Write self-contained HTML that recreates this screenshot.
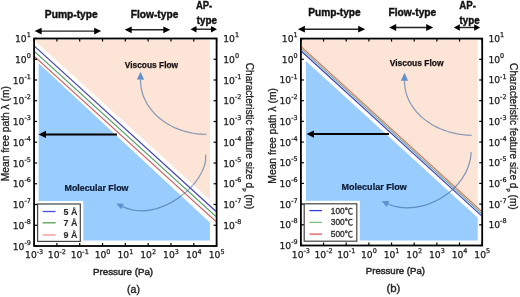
<!DOCTYPE html>
<html><head><meta charset="utf-8"><title>Mean free path vs pressure</title>
<style>html,body{margin:0;padding:0;background:#fff;}body{width:520px;height:297px;overflow:hidden;}svg{display:block;}</style>
</head><body>
<svg width="520" height="297" viewBox="0 0 520 297">
<polygon points="35.00,39.60 209.90,39.60 209.90,199.75 35.00,40.64" fill="#fce4d6"/>
<polygon points="38.60,63.21 209.90,222.52 209.90,240.60 38.60,240.60" fill="#99ccff"/>
<line x1="34.90" y1="46.65" x2="215.80" y2="211.21" stroke="#4040b0" stroke-width="1.15"/>
<line x1="34.90" y1="51.85" x2="215.80" y2="216.41" stroke="#489858" stroke-width="1.15"/>
<line x1="34.90" y1="56.85" x2="215.80" y2="221.41" stroke="#d05454" stroke-width="1.15"/>
<line x1="43.50" y1="134.40" x2="117.00" y2="134.40" stroke="#000" stroke-width="2"/>
<polygon points="38.50,134.40 46.00,130.80 46.00,138.00" fill="#000"/>
<path d="M206.40,134.30 L204.23,134.27 L202.07,134.18 L199.90,134.04 L197.75,133.83 L195.61,133.57 L193.47,133.25 L191.35,132.87 L189.25,132.43 L187.17,131.94 L185.10,131.39 L183.06,130.79 L181.05,130.13 L179.06,129.42 L177.10,128.65 L175.18,127.83 L173.28,126.96 L171.43,126.04 L169.61,125.07 L167.83,124.05 L166.09,122.98 L164.40,121.87 L162.75,120.71 L161.15,119.50 L159.60,118.26 L158.10,116.97 L156.65,115.64 L155.25,114.28 L153.91,112.88 L152.63,111.44 L151.41,109.97 L150.24,108.46 L149.14,106.93 L148.10,105.36 L147.12,103.77 L146.20,102.15 L145.35,100.51 L144.57,98.85 L143.85,97.17 L143.20,95.47 L142.62,93.75 L142.11,92.01 L141.67,90.27 L141.30,88.51 L141.00,86.74 L140.77,84.97 L140.61,83.19 L140.52,81.41 L140.50,79.63" fill="none" stroke="rgba(60,100,160,0.62)" stroke-width="1.2"/><polygon points="140.59,71.63 144.10,79.67 136.90,79.59" fill="#5f8fcc"/>
<path d="M205.60,154.60 C208.85,182.48 158.65,224.30 122.50,206.50" fill="none" stroke="rgba(60,100,160,0.62)" stroke-width="1.2"/><polygon points="116.40,203.50 123.91,203.63 121.09,209.37" fill="#5f8fcc"/>
<rect x="34.60" y="201.00" width="48.70" height="40.40" fill="#fff"/>
<rect x="37.60" y="204.00" width="42.70" height="37.40" fill="#fff" stroke="#444" stroke-width="1.2"/>
<line x1="42.60" y1="211.50" x2="55.60" y2="211.50" stroke="#4a4ae6" stroke-width="1.3"/>
<text x="77.40" y="214.50" font-family="'Liberation Sans', sans-serif" font-size="8.90" font-weight="bold" fill="#2a2a2a" stroke="#2a2a2a" stroke-width="0.10" text-anchor="end">5 Å</text>
<line x1="42.60" y1="222.80" x2="55.60" y2="222.80" stroke="#4fa04f" stroke-width="1.3"/>
<text x="77.40" y="225.80" font-family="'Liberation Sans', sans-serif" font-size="8.90" font-weight="bold" fill="#2a2a2a" stroke="#2a2a2a" stroke-width="0.10" text-anchor="end">7 Å</text>
<line x1="42.60" y1="235.00" x2="55.60" y2="235.00" stroke="#f09090" stroke-width="1.3"/>
<text x="77.40" y="238.00" font-family="'Liberation Sans', sans-serif" font-size="8.90" font-weight="bold" fill="#2a2a2a" stroke="#2a2a2a" stroke-width="0.10" text-anchor="end">9 Å</text>
<rect x="34.10" y="38.50" width="182.50" height="207.50" fill="none" stroke="#000" stroke-width="1.8"/>
<line x1="34.10" y1="38.50" x2="34.10" y2="41.50" stroke="#000" stroke-width="1.2"/>
<line x1="34.10" y1="246.00" x2="34.10" y2="243.00" stroke="#000" stroke-width="1.2"/>
<line x1="56.91" y1="38.50" x2="56.91" y2="41.50" stroke="#000" stroke-width="1.2"/>
<line x1="56.91" y1="246.00" x2="56.91" y2="243.00" stroke="#000" stroke-width="1.2"/>
<line x1="79.72" y1="38.50" x2="79.72" y2="41.50" stroke="#000" stroke-width="1.2"/>
<line x1="79.72" y1="246.00" x2="79.72" y2="243.00" stroke="#000" stroke-width="1.2"/>
<line x1="102.54" y1="38.50" x2="102.54" y2="41.50" stroke="#000" stroke-width="1.2"/>
<line x1="102.54" y1="246.00" x2="102.54" y2="243.00" stroke="#000" stroke-width="1.2"/>
<line x1="125.35" y1="38.50" x2="125.35" y2="41.50" stroke="#000" stroke-width="1.2"/>
<line x1="125.35" y1="246.00" x2="125.35" y2="243.00" stroke="#000" stroke-width="1.2"/>
<line x1="148.16" y1="38.50" x2="148.16" y2="41.50" stroke="#000" stroke-width="1.2"/>
<line x1="148.16" y1="246.00" x2="148.16" y2="243.00" stroke="#000" stroke-width="1.2"/>
<line x1="170.97" y1="38.50" x2="170.97" y2="41.50" stroke="#000" stroke-width="1.2"/>
<line x1="170.97" y1="246.00" x2="170.97" y2="243.00" stroke="#000" stroke-width="1.2"/>
<line x1="193.79" y1="38.50" x2="193.79" y2="41.50" stroke="#000" stroke-width="1.2"/>
<line x1="193.79" y1="246.00" x2="193.79" y2="243.00" stroke="#000" stroke-width="1.2"/>
<line x1="216.60" y1="38.50" x2="216.60" y2="41.50" stroke="#000" stroke-width="1.2"/>
<line x1="216.60" y1="246.00" x2="216.60" y2="243.00" stroke="#000" stroke-width="1.2"/>
<line x1="34.10" y1="38.50" x2="37.10" y2="38.50" stroke="#000" stroke-width="1.2"/>
<line x1="216.60" y1="38.50" x2="213.60" y2="38.50" stroke="#000" stroke-width="1.2"/>
<line x1="34.10" y1="59.25" x2="37.10" y2="59.25" stroke="#000" stroke-width="1.2"/>
<line x1="216.60" y1="59.25" x2="213.60" y2="59.25" stroke="#000" stroke-width="1.2"/>
<line x1="34.10" y1="80.00" x2="37.10" y2="80.00" stroke="#000" stroke-width="1.2"/>
<line x1="216.60" y1="80.00" x2="213.60" y2="80.00" stroke="#000" stroke-width="1.2"/>
<line x1="34.10" y1="100.75" x2="37.10" y2="100.75" stroke="#000" stroke-width="1.2"/>
<line x1="216.60" y1="100.75" x2="213.60" y2="100.75" stroke="#000" stroke-width="1.2"/>
<line x1="34.10" y1="121.50" x2="37.10" y2="121.50" stroke="#000" stroke-width="1.2"/>
<line x1="216.60" y1="121.50" x2="213.60" y2="121.50" stroke="#000" stroke-width="1.2"/>
<line x1="34.10" y1="142.25" x2="37.10" y2="142.25" stroke="#000" stroke-width="1.2"/>
<line x1="216.60" y1="142.25" x2="213.60" y2="142.25" stroke="#000" stroke-width="1.2"/>
<line x1="34.10" y1="163.00" x2="37.10" y2="163.00" stroke="#000" stroke-width="1.2"/>
<line x1="216.60" y1="163.00" x2="213.60" y2="163.00" stroke="#000" stroke-width="1.2"/>
<line x1="34.10" y1="183.75" x2="37.10" y2="183.75" stroke="#000" stroke-width="1.2"/>
<line x1="216.60" y1="183.75" x2="213.60" y2="183.75" stroke="#000" stroke-width="1.2"/>
<line x1="34.10" y1="204.50" x2="37.10" y2="204.50" stroke="#000" stroke-width="1.2"/>
<line x1="216.60" y1="204.50" x2="213.60" y2="204.50" stroke="#000" stroke-width="1.2"/>
<line x1="34.10" y1="225.25" x2="37.10" y2="225.25" stroke="#000" stroke-width="1.2"/>
<line x1="216.60" y1="225.25" x2="213.60" y2="225.25" stroke="#000" stroke-width="1.2"/>
<line x1="34.10" y1="246.00" x2="37.10" y2="246.00" stroke="#000" stroke-width="1.2"/>
<line x1="216.60" y1="246.00" x2="213.60" y2="246.00" stroke="#000" stroke-width="1.2"/>
<text x="34.10" y="258.40" font-family="'DejaVu Sans', sans-serif" font-size="9.20" fill="#1a1a1a" stroke="#1a1a1a" stroke-width="0.25" text-anchor="middle">10<tspan font-size="6.44" dy="-4.9">-3</tspan></text>
<text x="56.91" y="258.40" font-family="'DejaVu Sans', sans-serif" font-size="9.20" fill="#1a1a1a" stroke="#1a1a1a" stroke-width="0.25" text-anchor="middle">10<tspan font-size="6.44" dy="-4.9">-2</tspan></text>
<text x="79.72" y="258.40" font-family="'DejaVu Sans', sans-serif" font-size="9.20" fill="#1a1a1a" stroke="#1a1a1a" stroke-width="0.25" text-anchor="middle">10<tspan font-size="6.44" dy="-4.9">-1</tspan></text>
<text x="102.54" y="258.40" font-family="'DejaVu Sans', sans-serif" font-size="9.20" fill="#1a1a1a" stroke="#1a1a1a" stroke-width="0.25" text-anchor="middle">10<tspan font-size="6.44" dy="-4.9">0</tspan></text>
<text x="125.35" y="258.40" font-family="'DejaVu Sans', sans-serif" font-size="9.20" fill="#1a1a1a" stroke="#1a1a1a" stroke-width="0.25" text-anchor="middle">10<tspan font-size="6.44" dy="-4.9">1</tspan></text>
<text x="148.16" y="258.40" font-family="'DejaVu Sans', sans-serif" font-size="9.20" fill="#1a1a1a" stroke="#1a1a1a" stroke-width="0.25" text-anchor="middle">10<tspan font-size="6.44" dy="-4.9">2</tspan></text>
<text x="170.97" y="258.40" font-family="'DejaVu Sans', sans-serif" font-size="9.20" fill="#1a1a1a" stroke="#1a1a1a" stroke-width="0.25" text-anchor="middle">10<tspan font-size="6.44" dy="-4.9">3</tspan></text>
<text x="193.79" y="258.40" font-family="'DejaVu Sans', sans-serif" font-size="9.20" fill="#1a1a1a" stroke="#1a1a1a" stroke-width="0.25" text-anchor="middle">10<tspan font-size="6.44" dy="-4.9">4</tspan></text>
<text x="216.60" y="258.40" font-family="'DejaVu Sans', sans-serif" font-size="9.20" fill="#1a1a1a" stroke="#1a1a1a" stroke-width="0.25" text-anchor="middle">10<tspan font-size="6.44" dy="-4.9">5</tspan></text>
<text x="30.80" y="42.00" font-family="'DejaVu Sans', sans-serif" font-size="9.20" fill="#1a1a1a" stroke="#1a1a1a" stroke-width="0.25" text-anchor="end">10<tspan font-size="6.44" dy="-4.9">1</tspan></text>
<text x="223.20" y="42.00" font-family="'DejaVu Sans', sans-serif" font-size="9.20" fill="#1a1a1a" stroke="#1a1a1a" stroke-width="0.25" text-anchor="start">10<tspan font-size="6.44" dy="-4.9">1</tspan></text>
<text x="30.80" y="62.75" font-family="'DejaVu Sans', sans-serif" font-size="9.20" fill="#1a1a1a" stroke="#1a1a1a" stroke-width="0.25" text-anchor="end">10<tspan font-size="6.44" dy="-4.9">0</tspan></text>
<text x="223.20" y="62.75" font-family="'DejaVu Sans', sans-serif" font-size="9.20" fill="#1a1a1a" stroke="#1a1a1a" stroke-width="0.25" text-anchor="start">10<tspan font-size="6.44" dy="-4.9">0</tspan></text>
<text x="30.80" y="83.50" font-family="'DejaVu Sans', sans-serif" font-size="9.20" fill="#1a1a1a" stroke="#1a1a1a" stroke-width="0.25" text-anchor="end">10<tspan font-size="6.44" dy="-4.9">-1</tspan></text>
<text x="223.20" y="83.50" font-family="'DejaVu Sans', sans-serif" font-size="9.20" fill="#1a1a1a" stroke="#1a1a1a" stroke-width="0.25" text-anchor="start">10<tspan font-size="6.44" dy="-4.9">-1</tspan></text>
<text x="30.80" y="104.25" font-family="'DejaVu Sans', sans-serif" font-size="9.20" fill="#1a1a1a" stroke="#1a1a1a" stroke-width="0.25" text-anchor="end">10<tspan font-size="6.44" dy="-4.9">-2</tspan></text>
<text x="223.20" y="104.25" font-family="'DejaVu Sans', sans-serif" font-size="9.20" fill="#1a1a1a" stroke="#1a1a1a" stroke-width="0.25" text-anchor="start">10<tspan font-size="6.44" dy="-4.9">-2</tspan></text>
<text x="30.80" y="125.00" font-family="'DejaVu Sans', sans-serif" font-size="9.20" fill="#1a1a1a" stroke="#1a1a1a" stroke-width="0.25" text-anchor="end">10<tspan font-size="6.44" dy="-4.9">-3</tspan></text>
<text x="223.20" y="125.00" font-family="'DejaVu Sans', sans-serif" font-size="9.20" fill="#1a1a1a" stroke="#1a1a1a" stroke-width="0.25" text-anchor="start">10<tspan font-size="6.44" dy="-4.9">-3</tspan></text>
<text x="30.80" y="145.75" font-family="'DejaVu Sans', sans-serif" font-size="9.20" fill="#1a1a1a" stroke="#1a1a1a" stroke-width="0.25" text-anchor="end">10<tspan font-size="6.44" dy="-4.9">-4</tspan></text>
<text x="223.20" y="145.75" font-family="'DejaVu Sans', sans-serif" font-size="9.20" fill="#1a1a1a" stroke="#1a1a1a" stroke-width="0.25" text-anchor="start">10<tspan font-size="6.44" dy="-4.9">-4</tspan></text>
<text x="30.80" y="166.50" font-family="'DejaVu Sans', sans-serif" font-size="9.20" fill="#1a1a1a" stroke="#1a1a1a" stroke-width="0.25" text-anchor="end">10<tspan font-size="6.44" dy="-4.9">-5</tspan></text>
<text x="223.20" y="166.50" font-family="'DejaVu Sans', sans-serif" font-size="9.20" fill="#1a1a1a" stroke="#1a1a1a" stroke-width="0.25" text-anchor="start">10<tspan font-size="6.44" dy="-4.9">-5</tspan></text>
<text x="30.80" y="187.25" font-family="'DejaVu Sans', sans-serif" font-size="9.20" fill="#1a1a1a" stroke="#1a1a1a" stroke-width="0.25" text-anchor="end">10<tspan font-size="6.44" dy="-4.9">-6</tspan></text>
<text x="223.20" y="187.25" font-family="'DejaVu Sans', sans-serif" font-size="9.20" fill="#1a1a1a" stroke="#1a1a1a" stroke-width="0.25" text-anchor="start">10<tspan font-size="6.44" dy="-4.9">-6</tspan></text>
<text x="30.80" y="208.00" font-family="'DejaVu Sans', sans-serif" font-size="9.20" fill="#1a1a1a" stroke="#1a1a1a" stroke-width="0.25" text-anchor="end">10<tspan font-size="6.44" dy="-4.9">-7</tspan></text>
<text x="223.20" y="208.00" font-family="'DejaVu Sans', sans-serif" font-size="9.20" fill="#1a1a1a" stroke="#1a1a1a" stroke-width="0.25" text-anchor="start">10<tspan font-size="6.44" dy="-4.9">-7</tspan></text>
<text x="30.80" y="228.75" font-family="'DejaVu Sans', sans-serif" font-size="9.20" fill="#1a1a1a" stroke="#1a1a1a" stroke-width="0.25" text-anchor="end">10<tspan font-size="6.44" dy="-4.9">-8</tspan></text>
<text x="223.20" y="228.75" font-family="'DejaVu Sans', sans-serif" font-size="9.20" fill="#1a1a1a" stroke="#1a1a1a" stroke-width="0.25" text-anchor="start">10<tspan font-size="6.44" dy="-4.9">-8</tspan></text>
<text x="30.80" y="249.50" font-family="'DejaVu Sans', sans-serif" font-size="9.20" fill="#1a1a1a" stroke="#1a1a1a" stroke-width="0.25" text-anchor="end">10<tspan font-size="6.44" dy="-4.9">-9</tspan></text>
<text x="44.80" y="17.70" font-family="'Liberation Sans', sans-serif" font-size="10.20" font-weight="bold" fill="#111" stroke="#111" stroke-width="0.40" textLength="52.90" lengthAdjust="spacingAndGlyphs">Pump-type</text>
<text x="130.80" y="17.70" font-family="'Liberation Sans', sans-serif" font-size="10.20" font-weight="bold" fill="#111" stroke="#111" stroke-width="0.40" textLength="47.50" lengthAdjust="spacingAndGlyphs">Flow-type</text>
<text x="195.90" y="9.20" font-family="'Liberation Sans', sans-serif" font-size="10.00" font-weight="bold" fill="#111" stroke="#111" stroke-width="0.30" textLength="16.40" lengthAdjust="spacingAndGlyphs">AP-</text>
<text x="196.80" y="24.00" font-family="'Liberation Sans', sans-serif" font-size="10.20" font-weight="bold" fill="#111" stroke="#111" stroke-width="0.40" textLength="20.20" lengthAdjust="spacingAndGlyphs">type</text>
<line x1="40.60" y1="31.10" x2="95.20" y2="31.10" stroke="#222" stroke-width="1.4"/><polygon points="34.60,31.10 41.60,27.70 41.60,34.50" fill="#000"/><polygon points="101.20,31.10 94.20,27.70 94.20,34.50" fill="#000"/>
<line x1="130.70" y1="29.80" x2="164.30" y2="29.80" stroke="#222" stroke-width="1.4"/><polygon points="124.70,29.80 131.70,26.40 131.70,33.20" fill="#000"/><polygon points="170.30,29.80 163.30,26.40 163.30,33.20" fill="#000"/>
<line x1="195.50" y1="29.20" x2="212.00" y2="29.20" stroke="#222" stroke-width="1.4"/><polygon points="190.50,29.20 196.50,25.90 196.50,32.50" fill="#000"/><polygon points="217.00,29.20 211.00,25.90 211.00,32.50" fill="#000"/>
<text x="124.75" y="67.50" font-family="'Liberation Sans', sans-serif" font-size="9.40" font-weight="bold" fill="#141010" stroke="#141010" stroke-width="0.25" textLength="53.35" lengthAdjust="spacingAndGlyphs">Viscous Flow</text>
<text x="64.50" y="190.60" font-family="'Liberation Sans', sans-serif" font-size="9.40" font-weight="bold" fill="#0c1a33" stroke="#0c1a33" stroke-width="0.22" textLength="64.00" lengthAdjust="spacingAndGlyphs">Molecular Flow</text>
<text x="93.10" y="275.40" font-family="'Liberation Sans', sans-serif" font-size="9.60"  fill="#262626" stroke="#262626" stroke-width="0.45" textLength="60.00" lengthAdjust="spacingAndGlyphs">Pressure (Pa)</text>
<text x="127.10" y="292.60" font-family="'Liberation Sans', sans-serif" font-size="10.40"  fill="#222" stroke="#222" stroke-width="0.35" textLength="12.90" lengthAdjust="spacingAndGlyphs">(a)</text>
<text transform="translate(8.90,133.70) rotate(-90)" x="0" y="0" font-family="'Liberation Sans', sans-serif" font-size="10.40" fill="#222" stroke="#222" stroke-width="0.30" text-anchor="middle" textLength="95.20" lengthAdjust="spacingAndGlyphs">Mean free path λ (m)</text>
<text transform="translate(245.60,136.05) rotate(90)" x="0" y="0" font-family="'Liberation Sans', sans-serif" font-size="10.80" fill="#222" stroke="#222" stroke-width="0.30" text-anchor="middle" textLength="146.70" lengthAdjust="spacingAndGlyphs">Characteristic feature size d<tspan font-size="6.2" dy="2.8">p</tspan><tspan dy="-2.8"> (m)</tspan></text>
<polygon points="301.80,39.70 477.70,39.70 477.70,206.97 301.80,46.37" fill="#fce4d6"/>
<polygon points="305.90,60.92 477.70,217.77 477.70,240.60 305.90,240.60" fill="#99ccff"/>
<line x1="301.70" y1="51.48" x2="481.40" y2="215.55" stroke="#3a3ab4" stroke-width="1.10"/>
<line x1="301.70" y1="49.18" x2="481.40" y2="213.25" stroke="#64aca0" stroke-width="1.10"/>
<line x1="301.70" y1="47.08" x2="481.40" y2="211.15" stroke="#d46848" stroke-width="1.10"/>
<line x1="311.50" y1="134.10" x2="389.00" y2="134.10" stroke="#000" stroke-width="2"/>
<polygon points="306.50,134.10 314.00,130.50 314.00,137.70" fill="#000"/>
<path d="M471.66,135.29 L469.44,135.22 L467.22,135.10 L465.00,134.92 L462.79,134.69 L460.60,134.39 L458.41,134.05 L456.25,133.64 L454.10,133.18 L451.97,132.67 L449.86,132.10 L447.77,131.48 L445.72,130.80 L443.69,130.08 L441.69,129.30 L439.73,128.47 L437.80,127.59 L435.91,126.66 L434.06,125.68 L432.25,124.66 L430.48,123.59 L428.76,122.48 L427.08,121.32 L425.46,120.12 L423.88,118.88 L422.35,117.60 L420.88,116.28 L419.46,114.93 L418.10,113.54 L416.80,112.11 L415.56,110.66 L414.38,109.17 L413.26,107.65 L412.20,106.10 L411.21,104.53 L410.28,102.93 L409.42,101.31 L408.62,99.67 L407.90,98.01 L407.24,96.33 L406.65,94.64 L406.13,92.93 L405.68,91.21 L405.31,89.48 L405.00,87.74 L404.77,85.99 L404.61,84.24 L404.52,82.48 L404.50,80.73" fill="none" stroke="rgba(60,100,160,0.62)" stroke-width="1.2"/><polygon points="404.59,72.73 408.10,80.77 400.90,80.69" fill="#5f8fcc"/>
<path d="M471.20,152.10 C469.53,191.07 420.67,218.27 388.00,204.00" fill="none" stroke="rgba(60,100,160,0.62)" stroke-width="1.2"/><polygon points="381.77,201.28 389.28,201.07 386.72,206.93" fill="#5f8fcc"/>
<rect x="301.20" y="200.80" width="58.60" height="40.40" fill="#fff"/>
<rect x="304.20" y="203.80" width="52.60" height="37.40" fill="#fff" stroke="#444" stroke-width="1.2"/>
<line x1="309.40" y1="210.60" x2="322.00" y2="210.60" stroke="#3a3ae0" stroke-width="1.3"/>
<text x="353.00" y="213.60" font-family="'Liberation Sans', 'Noto Sans CJK SC', sans-serif" font-size="8.30" font-weight="normal" fill="#2a2a2a" stroke="#2a2a2a" stroke-width="0.30" text-anchor="end">100℃</text>
<line x1="309.40" y1="222.40" x2="322.00" y2="222.40" stroke="#7cbf7c" stroke-width="1.3"/>
<text x="353.00" y="225.40" font-family="'Liberation Sans', 'Noto Sans CJK SC', sans-serif" font-size="8.30" font-weight="normal" fill="#2a2a2a" stroke="#2a2a2a" stroke-width="0.30" text-anchor="end">300℃</text>
<line x1="309.40" y1="234.10" x2="322.00" y2="234.10" stroke="#e05a5a" stroke-width="1.3"/>
<text x="353.00" y="237.10" font-family="'Liberation Sans', 'Noto Sans CJK SC', sans-serif" font-size="8.30" font-weight="normal" fill="#2a2a2a" stroke="#2a2a2a" stroke-width="0.30" text-anchor="end">500℃</text>
<rect x="300.90" y="38.60" width="181.30" height="206.90" fill="none" stroke="#000" stroke-width="1.8"/>
<line x1="300.90" y1="38.60" x2="300.90" y2="41.60" stroke="#000" stroke-width="1.2"/>
<line x1="300.90" y1="245.50" x2="300.90" y2="242.50" stroke="#000" stroke-width="1.2"/>
<line x1="323.56" y1="38.60" x2="323.56" y2="41.60" stroke="#000" stroke-width="1.2"/>
<line x1="323.56" y1="245.50" x2="323.56" y2="242.50" stroke="#000" stroke-width="1.2"/>
<line x1="346.22" y1="38.60" x2="346.22" y2="41.60" stroke="#000" stroke-width="1.2"/>
<line x1="346.22" y1="245.50" x2="346.22" y2="242.50" stroke="#000" stroke-width="1.2"/>
<line x1="368.89" y1="38.60" x2="368.89" y2="41.60" stroke="#000" stroke-width="1.2"/>
<line x1="368.89" y1="245.50" x2="368.89" y2="242.50" stroke="#000" stroke-width="1.2"/>
<line x1="391.55" y1="38.60" x2="391.55" y2="41.60" stroke="#000" stroke-width="1.2"/>
<line x1="391.55" y1="245.50" x2="391.55" y2="242.50" stroke="#000" stroke-width="1.2"/>
<line x1="414.21" y1="38.60" x2="414.21" y2="41.60" stroke="#000" stroke-width="1.2"/>
<line x1="414.21" y1="245.50" x2="414.21" y2="242.50" stroke="#000" stroke-width="1.2"/>
<line x1="436.88" y1="38.60" x2="436.88" y2="41.60" stroke="#000" stroke-width="1.2"/>
<line x1="436.88" y1="245.50" x2="436.88" y2="242.50" stroke="#000" stroke-width="1.2"/>
<line x1="459.54" y1="38.60" x2="459.54" y2="41.60" stroke="#000" stroke-width="1.2"/>
<line x1="459.54" y1="245.50" x2="459.54" y2="242.50" stroke="#000" stroke-width="1.2"/>
<line x1="482.20" y1="38.60" x2="482.20" y2="41.60" stroke="#000" stroke-width="1.2"/>
<line x1="482.20" y1="245.50" x2="482.20" y2="242.50" stroke="#000" stroke-width="1.2"/>
<line x1="300.90" y1="38.60" x2="303.90" y2="38.60" stroke="#000" stroke-width="1.2"/>
<line x1="482.20" y1="38.60" x2="479.20" y2="38.60" stroke="#000" stroke-width="1.2"/>
<line x1="300.90" y1="59.29" x2="303.90" y2="59.29" stroke="#000" stroke-width="1.2"/>
<line x1="482.20" y1="59.29" x2="479.20" y2="59.29" stroke="#000" stroke-width="1.2"/>
<line x1="300.90" y1="79.98" x2="303.90" y2="79.98" stroke="#000" stroke-width="1.2"/>
<line x1="482.20" y1="79.98" x2="479.20" y2="79.98" stroke="#000" stroke-width="1.2"/>
<line x1="300.90" y1="100.67" x2="303.90" y2="100.67" stroke="#000" stroke-width="1.2"/>
<line x1="482.20" y1="100.67" x2="479.20" y2="100.67" stroke="#000" stroke-width="1.2"/>
<line x1="300.90" y1="121.36" x2="303.90" y2="121.36" stroke="#000" stroke-width="1.2"/>
<line x1="482.20" y1="121.36" x2="479.20" y2="121.36" stroke="#000" stroke-width="1.2"/>
<line x1="300.90" y1="142.05" x2="303.90" y2="142.05" stroke="#000" stroke-width="1.2"/>
<line x1="482.20" y1="142.05" x2="479.20" y2="142.05" stroke="#000" stroke-width="1.2"/>
<line x1="300.90" y1="162.74" x2="303.90" y2="162.74" stroke="#000" stroke-width="1.2"/>
<line x1="482.20" y1="162.74" x2="479.20" y2="162.74" stroke="#000" stroke-width="1.2"/>
<line x1="300.90" y1="183.43" x2="303.90" y2="183.43" stroke="#000" stroke-width="1.2"/>
<line x1="482.20" y1="183.43" x2="479.20" y2="183.43" stroke="#000" stroke-width="1.2"/>
<line x1="300.90" y1="204.12" x2="303.90" y2="204.12" stroke="#000" stroke-width="1.2"/>
<line x1="482.20" y1="204.12" x2="479.20" y2="204.12" stroke="#000" stroke-width="1.2"/>
<line x1="300.90" y1="224.81" x2="303.90" y2="224.81" stroke="#000" stroke-width="1.2"/>
<line x1="482.20" y1="224.81" x2="479.20" y2="224.81" stroke="#000" stroke-width="1.2"/>
<line x1="300.90" y1="245.50" x2="303.90" y2="245.50" stroke="#000" stroke-width="1.2"/>
<line x1="482.20" y1="245.50" x2="479.20" y2="245.50" stroke="#000" stroke-width="1.2"/>
<text x="300.90" y="258.00" font-family="'DejaVu Sans', sans-serif" font-size="9.20" fill="#1a1a1a" stroke="#1a1a1a" stroke-width="0.25" text-anchor="middle">10<tspan font-size="6.44" dy="-4.9">-3</tspan></text>
<text x="323.56" y="258.00" font-family="'DejaVu Sans', sans-serif" font-size="9.20" fill="#1a1a1a" stroke="#1a1a1a" stroke-width="0.25" text-anchor="middle">10<tspan font-size="6.44" dy="-4.9">-2</tspan></text>
<text x="346.22" y="258.00" font-family="'DejaVu Sans', sans-serif" font-size="9.20" fill="#1a1a1a" stroke="#1a1a1a" stroke-width="0.25" text-anchor="middle">10<tspan font-size="6.44" dy="-4.9">-1</tspan></text>
<text x="368.89" y="258.00" font-family="'DejaVu Sans', sans-serif" font-size="9.20" fill="#1a1a1a" stroke="#1a1a1a" stroke-width="0.25" text-anchor="middle">10<tspan font-size="6.44" dy="-4.9">0</tspan></text>
<text x="391.55" y="258.00" font-family="'DejaVu Sans', sans-serif" font-size="9.20" fill="#1a1a1a" stroke="#1a1a1a" stroke-width="0.25" text-anchor="middle">10<tspan font-size="6.44" dy="-4.9">1</tspan></text>
<text x="414.21" y="258.00" font-family="'DejaVu Sans', sans-serif" font-size="9.20" fill="#1a1a1a" stroke="#1a1a1a" stroke-width="0.25" text-anchor="middle">10<tspan font-size="6.44" dy="-4.9">2</tspan></text>
<text x="436.88" y="258.00" font-family="'DejaVu Sans', sans-serif" font-size="9.20" fill="#1a1a1a" stroke="#1a1a1a" stroke-width="0.25" text-anchor="middle">10<tspan font-size="6.44" dy="-4.9">3</tspan></text>
<text x="459.54" y="258.00" font-family="'DejaVu Sans', sans-serif" font-size="9.20" fill="#1a1a1a" stroke="#1a1a1a" stroke-width="0.25" text-anchor="middle">10<tspan font-size="6.44" dy="-4.9">4</tspan></text>
<text x="482.20" y="258.00" font-family="'DejaVu Sans', sans-serif" font-size="9.20" fill="#1a1a1a" stroke="#1a1a1a" stroke-width="0.25" text-anchor="middle">10<tspan font-size="6.44" dy="-4.9">5</tspan></text>
<text x="297.60" y="42.10" font-family="'DejaVu Sans', sans-serif" font-size="9.20" fill="#1a1a1a" stroke="#1a1a1a" stroke-width="0.25" text-anchor="end">10<tspan font-size="6.44" dy="-4.9">1</tspan></text>
<text x="488.40" y="42.10" font-family="'DejaVu Sans', sans-serif" font-size="9.20" fill="#1a1a1a" stroke="#1a1a1a" stroke-width="0.25" text-anchor="start">10<tspan font-size="6.44" dy="-4.9">1</tspan></text>
<text x="297.60" y="62.79" font-family="'DejaVu Sans', sans-serif" font-size="9.20" fill="#1a1a1a" stroke="#1a1a1a" stroke-width="0.25" text-anchor="end">10<tspan font-size="6.44" dy="-4.9">0</tspan></text>
<text x="488.40" y="62.79" font-family="'DejaVu Sans', sans-serif" font-size="9.20" fill="#1a1a1a" stroke="#1a1a1a" stroke-width="0.25" text-anchor="start">10<tspan font-size="6.44" dy="-4.9">0</tspan></text>
<text x="297.60" y="83.48" font-family="'DejaVu Sans', sans-serif" font-size="9.20" fill="#1a1a1a" stroke="#1a1a1a" stroke-width="0.25" text-anchor="end">10<tspan font-size="6.44" dy="-4.9">-1</tspan></text>
<text x="488.40" y="83.48" font-family="'DejaVu Sans', sans-serif" font-size="9.20" fill="#1a1a1a" stroke="#1a1a1a" stroke-width="0.25" text-anchor="start">10<tspan font-size="6.44" dy="-4.9">-1</tspan></text>
<text x="297.60" y="104.17" font-family="'DejaVu Sans', sans-serif" font-size="9.20" fill="#1a1a1a" stroke="#1a1a1a" stroke-width="0.25" text-anchor="end">10<tspan font-size="6.44" dy="-4.9">-2</tspan></text>
<text x="488.40" y="104.17" font-family="'DejaVu Sans', sans-serif" font-size="9.20" fill="#1a1a1a" stroke="#1a1a1a" stroke-width="0.25" text-anchor="start">10<tspan font-size="6.44" dy="-4.9">-2</tspan></text>
<text x="297.60" y="124.86" font-family="'DejaVu Sans', sans-serif" font-size="9.20" fill="#1a1a1a" stroke="#1a1a1a" stroke-width="0.25" text-anchor="end">10<tspan font-size="6.44" dy="-4.9">-3</tspan></text>
<text x="488.40" y="124.86" font-family="'DejaVu Sans', sans-serif" font-size="9.20" fill="#1a1a1a" stroke="#1a1a1a" stroke-width="0.25" text-anchor="start">10<tspan font-size="6.44" dy="-4.9">-3</tspan></text>
<text x="297.60" y="145.55" font-family="'DejaVu Sans', sans-serif" font-size="9.20" fill="#1a1a1a" stroke="#1a1a1a" stroke-width="0.25" text-anchor="end">10<tspan font-size="6.44" dy="-4.9">-4</tspan></text>
<text x="488.40" y="145.55" font-family="'DejaVu Sans', sans-serif" font-size="9.20" fill="#1a1a1a" stroke="#1a1a1a" stroke-width="0.25" text-anchor="start">10<tspan font-size="6.44" dy="-4.9">-4</tspan></text>
<text x="297.60" y="166.24" font-family="'DejaVu Sans', sans-serif" font-size="9.20" fill="#1a1a1a" stroke="#1a1a1a" stroke-width="0.25" text-anchor="end">10<tspan font-size="6.44" dy="-4.9">-5</tspan></text>
<text x="488.40" y="166.24" font-family="'DejaVu Sans', sans-serif" font-size="9.20" fill="#1a1a1a" stroke="#1a1a1a" stroke-width="0.25" text-anchor="start">10<tspan font-size="6.44" dy="-4.9">-5</tspan></text>
<text x="297.60" y="186.93" font-family="'DejaVu Sans', sans-serif" font-size="9.20" fill="#1a1a1a" stroke="#1a1a1a" stroke-width="0.25" text-anchor="end">10<tspan font-size="6.44" dy="-4.9">-6</tspan></text>
<text x="488.40" y="186.93" font-family="'DejaVu Sans', sans-serif" font-size="9.20" fill="#1a1a1a" stroke="#1a1a1a" stroke-width="0.25" text-anchor="start">10<tspan font-size="6.44" dy="-4.9">-6</tspan></text>
<text x="297.60" y="207.62" font-family="'DejaVu Sans', sans-serif" font-size="9.20" fill="#1a1a1a" stroke="#1a1a1a" stroke-width="0.25" text-anchor="end">10<tspan font-size="6.44" dy="-4.9">-7</tspan></text>
<text x="488.40" y="207.62" font-family="'DejaVu Sans', sans-serif" font-size="9.20" fill="#1a1a1a" stroke="#1a1a1a" stroke-width="0.25" text-anchor="start">10<tspan font-size="6.44" dy="-4.9">-7</tspan></text>
<text x="297.60" y="228.31" font-family="'DejaVu Sans', sans-serif" font-size="9.20" fill="#1a1a1a" stroke="#1a1a1a" stroke-width="0.25" text-anchor="end">10<tspan font-size="6.44" dy="-4.9">-8</tspan></text>
<text x="488.40" y="228.31" font-family="'DejaVu Sans', sans-serif" font-size="9.20" fill="#1a1a1a" stroke="#1a1a1a" stroke-width="0.25" text-anchor="start">10<tspan font-size="6.44" dy="-4.9">-8</tspan></text>
<text x="297.60" y="249.00" font-family="'DejaVu Sans', sans-serif" font-size="9.20" fill="#1a1a1a" stroke="#1a1a1a" stroke-width="0.25" text-anchor="end">10<tspan font-size="6.44" dy="-4.9">-9</tspan></text>
<text x="308.20" y="15.50" font-family="'Liberation Sans', sans-serif" font-size="10.20" font-weight="bold" fill="#111" stroke="#111" stroke-width="0.40" textLength="52.50" lengthAdjust="spacingAndGlyphs">Pump-type</text>
<text x="388.50" y="15.50" font-family="'Liberation Sans', sans-serif" font-size="10.20" font-weight="bold" fill="#111" stroke="#111" stroke-width="0.40" textLength="47.80" lengthAdjust="spacingAndGlyphs">Flow-type</text>
<text x="459.20" y="8.60" font-family="'Liberation Sans', sans-serif" font-size="10.00" font-weight="bold" fill="#111" stroke="#111" stroke-width="0.30" textLength="16.70" lengthAdjust="spacingAndGlyphs">AP-</text>
<text x="459.50" y="23.60" font-family="'Liberation Sans', sans-serif" font-size="10.20" font-weight="bold" fill="#111" stroke="#111" stroke-width="0.40" textLength="20.20" lengthAdjust="spacingAndGlyphs">type</text>
<line x1="303.90" y1="29.20" x2="359.20" y2="29.20" stroke="#222" stroke-width="1.4"/><polygon points="297.90,29.20 304.90,25.80 304.90,32.60" fill="#000"/><polygon points="365.20,29.20 358.20,25.80 358.20,32.60" fill="#000"/>
<line x1="395.20" y1="27.50" x2="427.20" y2="27.50" stroke="#222" stroke-width="1.4"/><polygon points="389.20,27.50 396.20,24.10 396.20,30.90" fill="#000"/><polygon points="433.20,27.50 426.20,24.10 426.20,30.90" fill="#000"/>
<line x1="458.80" y1="27.50" x2="475.20" y2="27.50" stroke="#222" stroke-width="1.4"/><polygon points="453.80,27.50 459.80,24.20 459.80,30.80" fill="#000"/><polygon points="480.20,27.50 474.20,24.20 474.20,30.80" fill="#000"/>
<text x="389.70" y="65.80" font-family="'Liberation Sans', sans-serif" font-size="9.40" font-weight="bold" fill="#141010" stroke="#141010" stroke-width="0.25" textLength="53.90" lengthAdjust="spacingAndGlyphs">Viscous Flow</text>
<text x="341.50" y="190.20" font-family="'Liberation Sans', sans-serif" font-size="9.40" font-weight="bold" fill="#0c1a33" stroke="#0c1a33" stroke-width="0.22" textLength="65.30" lengthAdjust="spacingAndGlyphs">Molecular Flow</text>
<text x="365.80" y="274.40" font-family="'Liberation Sans', sans-serif" font-size="9.60"  fill="#262626" stroke="#262626" stroke-width="0.45" textLength="59.20" lengthAdjust="spacingAndGlyphs">Pressure (Pa)</text>
<text x="386.50" y="292.40" font-family="'Liberation Sans', sans-serif" font-size="10.40"  fill="#222" stroke="#222" stroke-width="0.35" textLength="13.90" lengthAdjust="spacingAndGlyphs">(b)</text>
<text transform="translate(275.60,135.90) rotate(-90)" x="0" y="0" font-family="'Liberation Sans', sans-serif" font-size="10.40" fill="#222" stroke="#222" stroke-width="0.30" text-anchor="middle" textLength="95.60" lengthAdjust="spacingAndGlyphs">Mean free path λ (m)</text>
<text transform="translate(510.30,136.40) rotate(90)" x="0" y="0" font-family="'Liberation Sans', sans-serif" font-size="10.80" fill="#222" stroke="#222" stroke-width="0.30" text-anchor="middle" textLength="146.60" lengthAdjust="spacingAndGlyphs">Characteristic feature size d<tspan font-size="6.2" dy="2.8">p</tspan><tspan dy="-2.8"> (m)</tspan></text>
</svg>
</body></html>
